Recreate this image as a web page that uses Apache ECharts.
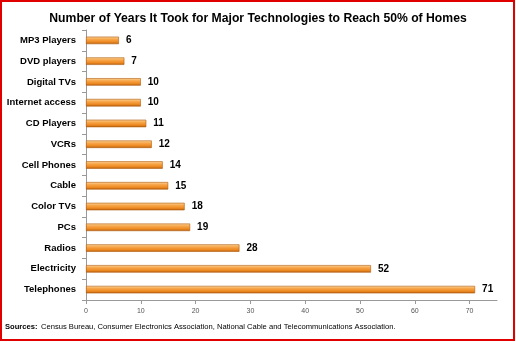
<!DOCTYPE html>
<html><head><meta charset="utf-8">
<script src="https://cdn.jsdelivr.net/npm/echarts@6/dist/echarts.min.js"></script>
<style>html,body{margin:0;padding:0;background:#fff}#c{width:516px;height:342px}</style>
</head><body><div id="c"></div>
<script>
const categories = ["MP3 Players","DVD players","Digital TVs","Internet access","CD Players","VCRs","Cell Phones","Cable","Color TVs","PCs","Radios","Electricity","Telephones"];
const years = [6,7,10,10,11,12,14,15,18,19,28,52,71];
const xTicks = [0,10,20,30,40,50,60,70];
const titleText = "Number of Years It Took for Major Technologies to Reach 50% of Homes";
const sourceLabel = "Sources:";
const sourceText = "Census Bureau, Consumer Electronics Association, National Cable and Telecommunications Association.";

const chart = echarts.init(document.getElementById('c'), null, {renderer:'canvas'});
chart.setOption({
  animation:false,
  backgroundColor:'#fff',
  title:{text:titleText,left:'center',top:8,textStyle:{fontFamily:'Liberation Sans',fontWeight:'bold',fontSize:12.2,color:'#000'}},
  grid:{left:86,right:19,top:30,bottom:42,containLabel:false},
  xAxis:{type:'value',min:0,max:75,interval:10,
    axisLine:{show:true,lineStyle:{color:'#999',width:1}},
    axisTick:{show:true,length:4,lineStyle:{color:'#999'}},
    splitLine:{show:false},
    axisLabel:{showMaxLabel:false,color:'#555',fontSize:7,fontFamily:'Liberation Sans',margin:8,
      formatter:v=>xTicks.includes(v)?String(v):''}},
  yAxis:{type:'category',data:categories,inverse:true,
    axisLine:{show:true,lineStyle:{color:'#999'}},
    axisTick:{show:true,length:4,lineStyle:{color:'#999'}},
    axisLabel:{color:'#000',fontWeight:'bold',fontSize:9.5,fontFamily:'Liberation Sans',margin:10}},
  series:[{type:'bar',data:years,barWidth:7.5,
    itemStyle:{borderColor:'#b05a0c',borderWidth:0.6,
      color:new echarts.graphic.LinearGradient(0,0,0,1,[
        {offset:0,color:'#fbd59a'},{offset:0.35,color:'#f7a64a'},{offset:0.7,color:'#ee8a22'},{offset:1,color:'#b9600e'}])},
    label:{show:true,position:'right',distance:7,color:'#000',fontWeight:'bold',fontSize:10,fontFamily:'Liberation Sans'}}],
  graphic:[
    {type:'rect',shape:{x:1,y:1,width:513,height:339},style:{fill:'none',stroke:'#e00000',lineWidth:2},silent:true},
    {type:'text',x:5,y:323,style:{text:sourceLabel,fontFamily:'Liberation Sans',fontWeight:'bold',fontSize:7.6,fill:'#000'}},
    {type:'text',x:41,y:323,style:{text:sourceText,fontFamily:'Liberation Sans',fontSize:7.6,fill:'#000'}}
  ]
});
</script></body></html>
